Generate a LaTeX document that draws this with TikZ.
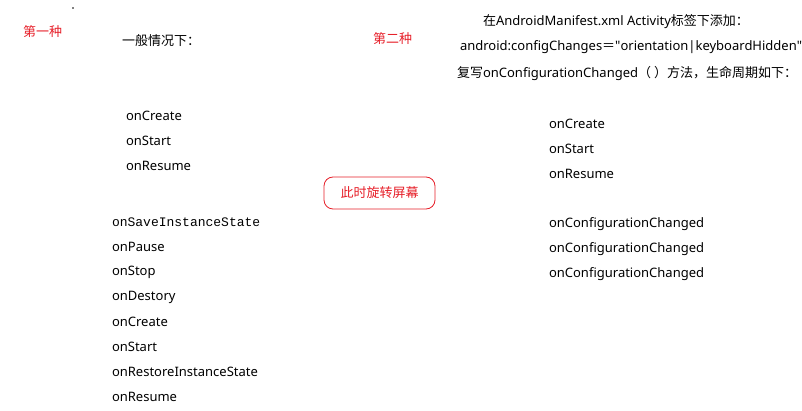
\documentclass[tikz,border=0pt]{standalone}
\usepackage{fontspec}
\setmainfont{Noto Sans}
\newfontfamily\cjk{Noto Sans CJK SC}
\newfontfamily\monof{Liberation Mono}
\font\qf="Noto Sans" at 13pt
\definecolor{redtxt}{RGB}{230,30,40}
\begin{document}
\begin{tikzpicture}[x=1pt,y=-1pt,
  every node/.style={inner sep=0pt,outer sep=0pt,anchor=west,font=\fontsize{13}{15}\selectfont},
  lbl/.style={text=black},
  redlbl/.style={text=redtxt,font=\cjk\fontsize{13}{15}\selectfont},
  mono/.style={font=\monof\fontsize{13}{15}\selectfont}]
\useasboundingbox (0,0) rectangle (802,411);
\fill (73,8) circle (0.8);
\node[redlbl] (first) at (23,32) {第一种};
\node[lbl,font=\cjk\fontsize{13}{15}\selectfont] (gen) at (122,41) {一般情况下：};
\node[redlbl] (second) at (373,39) {第二种};
\node[lbl] (h1) at (483,22) {{\cjk 在}AndroidManifest.xml Activity{\cjk 标签下添加：}};
\node[lbl] (h2) at (460,47) {android:configChanges{\cjk ＝}{\qf "}orientation|keyboardHidden{\qf "}};
\node[lbl] (h3) at (457,73) {{\cjk 复写}onConfigurationChanged{\cjk （ ）方法，生命周期如下：}};
% left top
\node (a1) at (126,116) {onCreate};
\node (a2) at (126,141) {onStart};
\node (a3) at (126,166) {onResume};
% rotate box
\node[draw=redtxt,line width=0.8pt,rounded corners=9pt,minimum width=111pt,minimum height=32pt,anchor=center,text=redtxt,font=\cjk\fontsize{13}{15}\selectfont] (rot) at (379.5,193) {此时旋转屏幕};
% left list
\node[mono] (b1) at (112,222) {onSaveInstanceState};
\node (b2) at (112,247) {onPause};
\node (b3) at (112,272) {onStop};
\node (b4) at (112,297) {onDestory};
\node (b5) at (112,322) {onCreate};
\node (b6) at (112,347) {onStart};
\node (b7) at (112,372) {onRestoreInstanceState};
\node (b8) at (112,397) {onResume};
% right list
\node (c1) at (549,124) {onCreate};
\node (c2) at (549,149) {onStart};
\node (c3) at (549,174) {onResume};
\node (c4) at (549,224) {onConfigurationChanged};
\node (c5) at (549,249) {onConfigurationChanged};
\node (c6) at (549,274) {onConfigurationChanged};
\end{tikzpicture}
\end{document}
